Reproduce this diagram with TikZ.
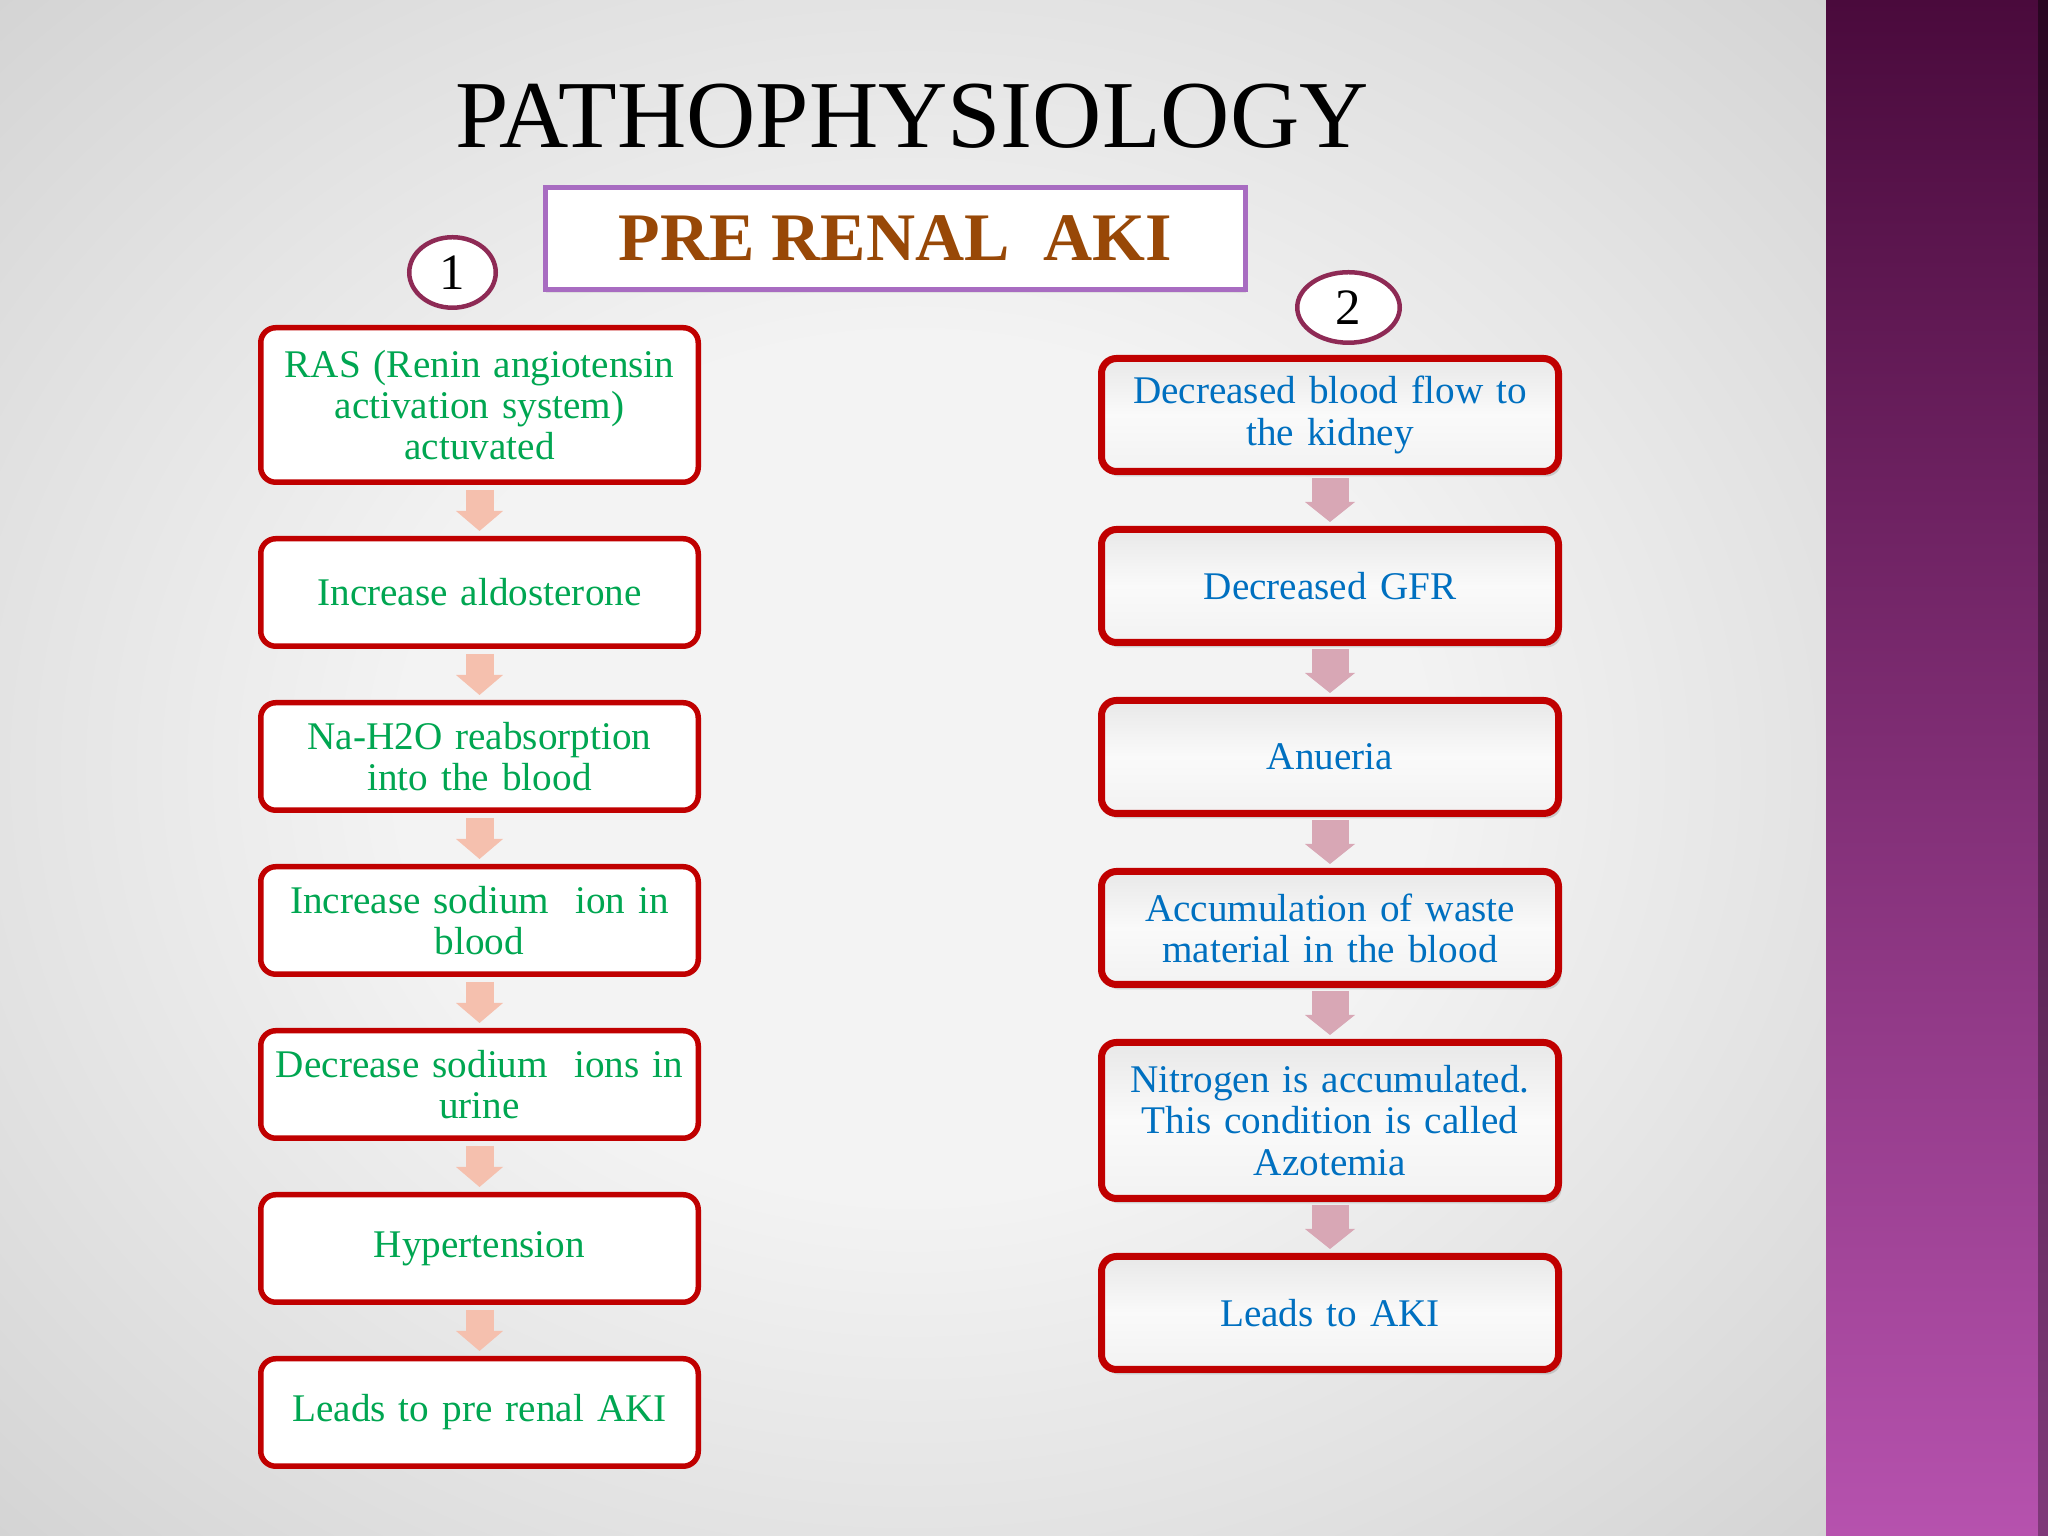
\documentclass[tikz,border=0pt]{standalone}
\usepackage{fontspec}
\setmainfont{Liberation Serif}
\usetikzlibrary{positioning,arrows.meta,shapes.geometric,shadows}

\definecolor{bgcenter}{HTML}{F3F3F3}
\definecolor{bgmid}{HTML}{BFBFBF}
\definecolor{bgedge}{HTML}{A9A9A9}
\definecolor{bandtop}{HTML}{4A0A3C}
\definecolor{bandbot}{HTML}{B652AE}
\definecolor{boxred}{HTML}{C00000}
\definecolor{leftgreen}{HTML}{00A651}
\definecolor{rightblue}{HTML}{0070C0}
\definecolor{titlebrown}{HTML}{984807}
\definecolor{titlering}{HTML}{A86CC1}
\definecolor{numring}{HTML}{8E2A55}
\definecolor{larrowc}{HTML}{F5C0AE}
\definecolor{rarrowc}{HTML}{D8A7B5}

\pgfdeclareradialshading{slidebg}{\pgfpoint{0bp}{0bp}}{color(0bp)=(bgcenter); color(14bp)=(bgcenter); color(50bp)=(bgmid); color(71bp)=(bgedge)}

\begin{document}
\begin{tikzpicture}[
        lbox/.style={draw=boxred, line width=0.055cm, rounded corners=0.15cm, fill=white,
                     minimum width=4.375cm, minimum height=1.075cm, text width=4.3cm,
                     align=center, inner sep=0pt, text=leftgreen,
                     font=\fontsize{11.15}{11.7}\selectfont},
        rbox/.style={draw=boxred, line width=0.07cm, rounded corners=0.15cm,
                     top color=gray!18, bottom color=gray!10, middle color=gray!4,
                     drop shadow={shadow xshift=0.03cm, shadow yshift=-0.05cm, opacity=0.3},
                     minimum width=4.57cm, minimum height=1.13cm, text width=4.5cm,
                     align=center, inner sep=0pt, text=rightblue,
                     font=\fontsize{11.15}{11.7}\selectfont},
        num/.style={ellipse, draw=numring, line width=0.045cm, fill=white, inner sep=0pt,
                    font=\fontsize{14.5}{14.5}\selectfont},
        larrow/.style={draw=larrowc, line width=0.28cm,
                       -{Triangle[width=0.47cm, length=0.2cm, line width=0pt]},
                       shorten <=0.05cm, shorten >=0.05cm},
        rarrow/.style={draw=rarrowc, line width=0.37cm,
                       -{Triangle[width=0.50cm, length=0.2cm, line width=0pt]},
                       shorten <=0.035cm, shorten >=0.04cm},
        node distance=0.51cm]
        \useasboundingbox (0,0) rectangle (20.48,15.36);
        \shade[shading=slidebg] (0,0) rectangle (18.26,15.36);
        \shade[top color=bandtop, bottom color=bandbot] (18.26,0) rectangle (20.48,15.36);
        \shade[top color=black!45!bandtop, bottom color=black!30!bandbot] (20.38,0) rectangle (20.48,15.36);

        \node[anchor=base, font=\fontsize{27.3}{30}\selectfont] (title) at (9.12,13.88) {PATHOPHYSIOLOGY};
        \node[draw=titlering, line width=0.05cm, fill=white, minimum width=7.0cm, minimum height=1.02cm,
              drop shadow={shadow xshift=0cm, shadow yshift=-0.04cm, opacity=0.15},
              text=titlebrown, font=\fontsize{19.35}{20}\selectfont\bfseries] (pre) at (8.955,12.975) {PRE RENAL\ \ AKI};
        \node[num, minimum width=0.865cm, minimum height=0.705cm] (one) at (4.525,12.635) {1};
        \node[num, minimum width=1.025cm, minimum height=0.705cm] (two) at (13.485,12.285) {2};

        \node[lbox, minimum height=1.545cm] (ras) at (4.795,11.31) {RAS (Renin angiotensin\\ activation system)\\ actuvated};
        \node[lbox, below=of ras] (aldo) {Increase aldosterone};
        \node[lbox, below=of aldo] (reabs) {Na-H2O reabsorption\\ into the blood};
        \node[lbox, below=of reabs] (naup) {Increase sodium\ \ ion in\\ blood};
        \node[lbox, below=of naup] (nadown) {Decrease sodium\ \ ions in\\ urine};
        \node[lbox, below=of nadown] (htn) {Hypertension};
        \node[lbox, below=of htn] (prak) {Leads to pre renal AKI};

        \node[rbox] (flow) at (13.30,11.21) {Decreased blood flow to\\ the kidney};
        \node[rbox, below=of flow] (gfr) {Decreased GFR};
        \node[rbox, below=of gfr] (anu) {Anueria};
        \node[rbox, below=of anu] (waste) {Accumulation of waste\\ material in the blood};
        \node[rbox, minimum height=1.56cm, below=of waste] (azo) {Nitrogen is accumulated.\\ This condition is called\\ Azotemia};
        \node[rbox, below=of azo] (aki) {Leads to AKI};

        \draw[larrow] (ras)--(aldo);
        \draw[larrow] (aldo)--(reabs);
        \draw[larrow] (reabs)--(naup);
        \draw[larrow] (naup)--(nadown);
        \draw[larrow] (nadown)--(htn);
        \draw[larrow] (htn)--(prak);

        \draw[rarrow] (flow)--(gfr);
        \draw[rarrow] (gfr)--(anu);
        \draw[rarrow] (anu)--(waste);
        \draw[rarrow] (waste)--(azo);
        \draw[rarrow] (azo)--(aki);
    \end{tikzpicture}
\end{document}
